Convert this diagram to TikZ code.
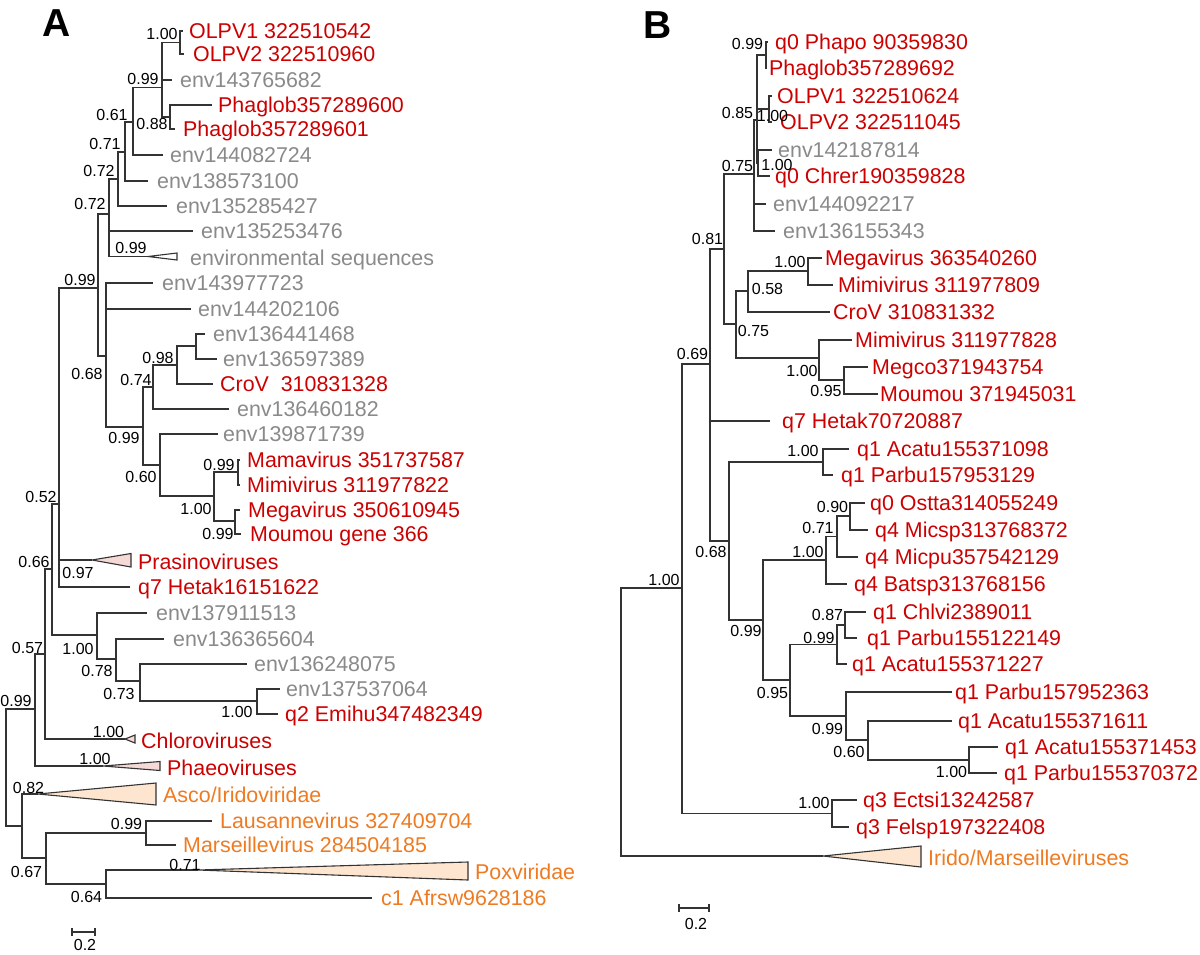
\documentclass[tikz,border=0pt]{standalone}
\usepackage{fontspec}
\setmainfont{Liberation Sans}
\definecolor{vred}{HTML}{CC0000}
\definecolor{vgray}{HTML}{8A8A8A}
\definecolor{vorange}{HTML}{EE7B22}
\definecolor{linec}{HTML}{333333}
\definecolor{pinkfill}{HTML}{F4D9D7}
\definecolor{peachfill}{HTML}{FDE5CF}
\newcommand\leaffont{\fontsize{21.4pt}{24pt}\selectfont}
\newcommand\bsfont{\fontsize{16pt}{18pt}\selectfont}
\newcommand\hdfont{\fontsize{39pt}{40pt}\selectfont\bfseries}
\newcommand\Lf[6]{\coordinate (#1) at (#2,#3); \node[lf,#5] (#1t) at (#4,#3) {#6};}
\tikzset{
  brn/.style={draw=linec, line width=1.2pt},
  tri/.style={draw=linec, line width=1.1pt, line join=miter},
  lf/.style={anchor=west, inner sep=0pt, font=\leaffont, text height=15.3pt, text depth=0pt},
  bs/.style={inner sep=0pt, font=\bsfont, text height=11.5pt, text depth=0pt},
  hd/.style={anchor=north west, inner sep=0pt, font=\hdfont, text height=28pt, text depth=0pt},
}
\begin{document}
\begin{tikzpicture}[x=1pt,y=-1pt]
\useasboundingbox (0,0) rectangle (1200,954);
\fill[white] (0,0) rectangle (1200,954);
\node[hd] (hA) at (42,8) {A};
\node[hd] (hB) at (643,10) {B};
% ================= TREE A =================
\coordinate (aO) at (180,42.5);
\coordinate (a88) at (170,117);
\coordinate (a99a) at (162,87.5);
\coordinate (a61) at (133,122);
\coordinate (a71) at (125,152);
\coordinate (a72u) at (118,179);
\coordinate (a72l) at (109,214);
\coordinate (a99b) at (98,288);
\coordinate (a68) at (106,356);
\coordinate (a99c) at (143,427);
\coordinate (a74) at (153,387);
\coordinate (a98) at (177,365);
\coordinate (aU) at (196,346);
\coordinate (a60) at (160,465);
\coordinate (a100m) at (214,496);
\coordinate (a99mm) at (238,472);
\coordinate (a99mg) at (235,521);
\coordinate (a52) at (59,504);
\coordinate (a66) at (52,569);
\coordinate (a100e) at (97,635);
\coordinate (a78) at (116,659);
\coordinate (a73) at (140,681);
\coordinate (a100q) at (257,701);
\coordinate (a57) at (45,654);
\coordinate (a99d) at (35,709);
\coordinate (aR) at (6,767);
\coordinate (aX) at (22,826);
\coordinate (a67) at (46,858);
\coordinate (a99lm) at (146,833);
\coordinate (a64) at (106,884);
\coordinate (aEnvT) at (148,256.5);
\coordinate (aPraT) at (92,560);
\coordinate (aChlT) at (125,739);
\coordinate (aPhaT) at (103,766);
\coordinate (aAscT) at (38,794);
\coordinate (aPoxT) at (198,870);
\Lf{lO1}{183}{31}{189}{vred}{OLPV1 322510542}
\Lf{lO2}{184}{54}{193}{vred}{OLPV2 322510960}
\Lf{lE1}{172}{80}{180}{vgray}{env143765682}
\Lf{lP1}{212}{105}{218}{vred}{Phaglob357289600}
\Lf{lP2}{175}{129}{183}{vred}{Phaglob357289601}
\Lf{lE2}{163}{155}{170}{vgray}{env144082724}
\Lf{lE3}{148}{181}{157}{vgray}{env138573100}
\Lf{lE4}{167}{206}{176}{vgray}{env135285427}
\Lf{lE5}{193}{231}{201}{vgray}{env135253476}
\node[lf,vgray] (lEnv) at (190,258) {environmental sequences};
\Lf{lE6}{153}{283}{162}{vgray}{env143977723}
\Lf{lE7}{191}{309}{198}{vgray}{env144202106}
\Lf{lE8}{205}{334}{213}{vgray}{env136441468}
\Lf{lE9}{217}{359}{223}{vgray}{env136597389}
\Lf{lCro}{213}{384}{220}{vred}{CroV\ \ 310831328}
\Lf{lE10}{229}{409}{237}{vgray}{env136460182}
\Lf{lE11}{218}{434}{223}{vgray}{env139871739}
\Lf{lMa}{240}{460}{247}{vred}{Mamavirus 351737587}
\Lf{lMi}{240}{485}{247}{vred}{Mimivirus 311977822}
\Lf{lMe}{240}{510}{248}{vred}{Megavirus 350610945}
\Lf{lMo}{241}{534}{250}{vred}{Moumou gene 366}
\node[lf,vred] (lPra) at (138,562) {Prasinoviruses};
\Lf{lQ7}{130}{587}{138}{vred}{q7 Hetak16151622}
\Lf{lE12}{147}{613}{156}{vgray}{env137911513}
\Lf{lE13}{164}{639}{173}{vgray}{env136365604}
\Lf{lE14}{247}{664}{254}{vgray}{env136248075}
\Lf{lE15}{280}{689}{286}{vgray}{env137537064}
\Lf{lQ2}{278}{714}{285}{vred}{q2 Emihu347482349}
\node[lf,vred] (lChl) at (141,741) {Chloroviruses};
\node[lf,vred] (lPha) at (167,768) {Phaeoviruses};
\node[lf,vorange] (lAsc) at (163,795) {Asco/Iridoviridae};
\Lf{lLau}{212}{821}{220}{vorange}{Lausannevirus 327409704}
\Lf{lMar}{176}{845}{183}{vorange}{Marseillevirus 284504185}
\node[lf,vorange] (lPox) at (475,872) {Poxviridae};
\Lf{lC1}{372}{898}{381}{vorange}{c1 Afrsw9628186}
\draw[brn] (aO) |- (lO1) (aO) |- (lO2)
 (a88) |- (lP1) (a88) |- (lP2)
 (a99a) |- (aO) (a99a) |- (lE1) (a99a) |- (a88)
 (a61) |- (a99a) (a61) |- (lE2)
 (a71) |- (a61) (a71) |- (lE3)
 (a72u) |- (a71) (a72u) |- (lE4)
 (a72l) |- (a72u) (a72l) |- (lE5) (a72l) |- (aEnvT)
 (a99b) |- (a72l) (a99b) |- (a68)
 (a68) |- (lE6) (a68) |- (lE7) (a68) |- (a99c)
 (a99c) |- (a74) (a99c) |- (a60)
 (a74) |- (a98) (a74) |- (lE10)
 (a98) |- (aU) (a98) |- (lCro)
 (aU) |- (lE8) (aU) |- (lE9)
 (a60) |- (lE11) (a60) |- (a100m)
 (a100m) |- (a99mm) (a100m) |- (a99mg)
 (a99mm) |- (lMa) (a99mm) |- (lMi)
 (a99mg) |- (lMe) (a99mg) |- (lMo)
 (a52) |- (a99b) (a52) |- (aPraT) (a52) |- (lQ7)
 (a66) |- (a52) (a66) |- (a100e)
 (a100e) |- (lE12) (a100e) |- (a78)
 (a78) |- (lE13) (a78) |- (a73)
 (a73) |- (lE14) (a73) |- (a100q)
 (a100q) |- (lE15) (a100q) |- (lQ2)
 (a57) |- (a66) (a57) |- (aChlT)
 (a99d) |- (a57) (a99d) |- (aPhaT)
 (aR) |- (a99d) (aR) |- (aX)
 (aX) |- (aAscT) (aX) |- (a67)
 (a67) |- (a99lm) (a67) |- (a64)
 (a99lm) |- (lLau) (a99lm) |- (lMar)
 (a64) |- (aPoxT) (a64) |- (lC1);
\draw[tri,fill=white] (aEnvT) -- (177,253) -- (177,260) -- cycle;
\draw[tri,fill=pinkfill] (aPraT) -- (131,553.5) -- (131,567) -- cycle;
\draw[tri,fill=pinkfill] (aChlT) -- (135,735) -- (135,743) -- cycle;
\draw[tri,fill=pinkfill] (aPhaT) -- (160,761.5) -- (160,770.5) -- cycle;
\draw[tri,fill=peachfill] (aAscT) -- (156,783) -- (156,805) -- cycle;
\draw[tri,fill=peachfill] (aPoxT) -- (468,862) -- (468,880) -- cycle;
% bootstrap A
\node[bs] (bA1) at (162,34) {1.00};
\node[bs] (bA2) at (143,79) {0.99};
\node[bs] (bA3) at (152,124) {0.88};
\node[bs] (bA4) at (112,114.5) {0.61};
\node[bs] (bA5) at (105,144) {0.71};
\node[bs] (bA6) at (99,171) {0.72};
\node[bs] (bA7) at (90,204) {0.72};
\node[bs] (bA8) at (131,247.5) {0.99};
\node[bs] (bA9) at (80,280) {0.99};
\node[bs] (bA10) at (87,374) {0.68};
\node[bs] (bA11) at (136,380) {0.74};
\node[bs] (bA12) at (158,358) {0.98};
\node[bs] (bA13) at (124,437.5) {0.99};
\node[bs] (bA14) at (141,477) {0.60};
\node[bs] (bA15) at (196,509) {1.00};
\node[bs] (bA16) at (219,465) {0.99};
\node[bs] (bA17) at (218,534) {0.99};
\node[bs] (bA18) at (41,496.5) {0.52};
\node[bs] (bA19) at (78,573) {0.97};
\node[bs] (bA20) at (34,561.5) {0.66};
\node[bs] (bA21) at (78,649) {1.00};
\node[bs] (bA22) at (97,671) {0.78};
\node[bs] (bA23) at (119,694) {0.73};
\node[bs] (bA24) at (237,712) {1.00};
\node[bs] (bA25) at (27.5,648) {0.57};
\node[bs] (bA26) at (16,700.5) {0.99};
\node[bs] (bA27) at (108.5,732) {1.00};
\node[bs] (bA28) at (95,759) {1.00};
\node[bs] (bA29) at (28.5,788) {0.82};
\node[bs] (bA30) at (126.5,824) {0.99};
\node[bs] (bA31) at (26.5,872) {0.67};
\node[bs] (bA32) at (86.5,897) {0.64};
\node[bs] (bA33) at (185,865) {0.71};
% scale A
\coordinate (sA1) at (72,932);
\coordinate (sA2) at (95,932);
\draw[brn] (sA1) -- (sA2) ([yshift=4pt]sA1) -- ([yshift=-4pt]sA1) ([yshift=4pt]sA2) -- ([yshift=-4pt]sA2);
\node[bs] (sAt) at (85,945) {0.2};
% ================= TREE B =================
\coordinate (b99) at (766,55);
\coordinate (bO) at (769,109);
\coordinate (bEC) at (758,163);
\coordinate (b85) at (757,120);
\coordinate (b75u) at (754,174);
\coordinate (b81) at (724,249);
\coordinate (b75l) at (736,324);
\coordinate (b58) at (748,291);
\coordinate (b100mm) at (808,271);
\coordinate (b100mc) at (819,358);
\coordinate (b95m) at (844,380);
\coordinate (b69) at (710,364);
\coordinate (b68) at (729,541);
\coordinate (b100ap) at (823,462);
\coordinate (b99b) at (763,620);
\coordinate (b100q4) at (826,560);
\coordinate (b71) at (837,536.5);
\coordinate (b90) at (850,516);
\coordinate (b95) at (790,680);
\coordinate (b99c) at (837,644.5);
\coordinate (b87) at (845,625);
\coordinate (b99d) at (846,716);
\coordinate (b60) at (868,740);
\coordinate (b100z) at (969,760);
\coordinate (b100r) at (682,588);
\coordinate (b100q3) at (832,813.5);
\coordinate (bR) at (621,722);
\coordinate (bIrT) at (823,856);
\Lf{mPh}{768}{42}{775}{vred}{q0 Phapo 90359830}
\Lf{mPg}{767}{68}{769}{vred}{Phaglob357289692}
\Lf{mO1}{772}{96}{777}{vred}{OLPV1 322510624}
\Lf{mO2}{772}{122}{780}{vred}{OLPV2 322511045}
\Lf{mE1}{772}{150}{778}{vgray}{env142187814}
\Lf{mCh}{770}{176}{775}{vred}{q0 Chrer190359828}
\Lf{mE2}{766}{204}{773}{vgray}{env144092217}
\Lf{mE3}{775}{231}{783}{vgray}{env136155343}
\Lf{mMe}{822}{258}{825}{vred}{Megavirus 363540260}
\Lf{mMi}{833}{285}{838}{vred}{Mimivirus 311977809}
\Lf{mCr}{830}{312}{833}{vred}{CroV 310831332}
\Lf{mMi2}{852}{340}{855}{vred}{Mimivirus 311977828}
\Lf{mMg}{868}{367}{872}{vred}{Megco371943754}
\Lf{mMo}{878}{394}{880}{vred}{Moumou 371945031}
\Lf{mQ7}{770}{421}{782}{vred}{q7 Hetak70720887}
\Lf{mA1}{849}{449}{857}{vred}{q1 Acatu155371098}
\Lf{mP1}{833}{475}{841}{vred}{q1 Parbu157953129}
\Lf{mOs}{865}{503}{870}{vred}{q0 Ostta314055249}
\Lf{mMs}{868}{530}{875}{vred}{q4 Micsp313768372}
\Lf{mMp}{858}{557}{865}{vred}{q4 Micpu357542129}
\Lf{mBa}{847}{584}{854}{vred}{q4 Batsp313768156}
\Lf{mCv}{866}{612}{873}{vred}{q1 Chlvi2389011}
\Lf{mP2}{857}{638}{867}{vred}{q1 Parbu155122149}
\Lf{mA2}{847}{664}{852}{vred}{q1 Acatu155371227}
\Lf{mP3}{952}{692}{955}{vred}{q1 Parbu157952363}
\Lf{mA3}{952}{721}{958}{vred}{q1 Acatu155371611}
\Lf{mA4}{998}{747}{1005}{vred}{q1 Acatu155371453}
\Lf{mP4}{997}{773}{1004}{vred}{q1 Parbu155370372}
\Lf{mEc}{857}{800}{863}{vred}{q3 Ectsi13242587}
\Lf{mFe}{849}{827}{856}{vred}{q3 Felsp197322408}
\node[lf,vorange] (mIr) at (928,858) {Irido/Marseilleviruses};
\draw[brn] (b99) |- (mPh) (b99) |- (mPg)
 (bO) |- (mO1) (bO) |- (mO2)
 (bEC) |- (mE1) (bEC) |- (mCh)
 (b85) |- (b99) (b85) |- (bO) (b85) |- (bEC)
 (b75u) |- (b85) (b75u) |- (mE2) (b75u) |- (mE3)
 (b81) |- (b75u) (b81) |- (b75l)
 (b75l) |- (b58) (b75l) |- (b100mc)
 (b58) |- (b100mm) (b58) |- (mCr)
 (b100mm) |- (mMe) (b100mm) |- (mMi)
 (b100mc) |- (mMi2) (b100mc) |- (b95m)
 (b95m) |- (mMg) (b95m) |- (mMo)
 (b69) |- (b81) (b69) |- (mQ7) (b69) |- (b68)
 (b68) |- (b100ap) (b68) |- (b99b)
 (b100ap) |- (mA1) (b100ap) |- (mP1)
 (b99b) |- (b100q4) (b99b) |- (b95)
 (b100q4) |- (b71) (b100q4) |- (mBa)
 (b71) |- (b90) (b71) |- (mMp)
 (b90) |- (mOs) (b90) |- (mMs)
 (b95) |- (b99c) (b95) |- (b99d)
 (b99c) |- (b87) (b99c) |- (mA2)
 (b87) |- (mCv) (b87) |- (mP2)
 (b99d) |- (mP3) (b99d) |- (b60)
 (b60) |- (mA3) (b60) |- (b100z)
 (b100z) |- (mA4) (b100z) |- (mP4)
 (b100r) |- (b69) (b100r) |- (b100q3)
 (b100q3) |- (mEc) (b100q3) |- (mFe)
 (bR) |- (b100r) (bR) |- (bIrT);
\draw[tri,fill=peachfill] (bIrT) -- (921,846) -- (921,867) -- cycle;
% bootstrap B
\node[bs] (bB1) at (747.5,44) {0.99};
\node[bs] (bB2) at (737.5,112.5) {0.85};
\node[bs] (bB3) at (772.5,116) {1.00};
\node[bs] (bB4) at (777,165) {1.00};
\node[bs] (bB5) at (737.5,166) {0.75};
\node[bs] (bB6) at (707.5,239) {0.81};
\node[bs] (bB7) at (790,262) {1.00};
\node[bs] (bB8) at (767.5,289) {0.58};
\node[bs] (bB9) at (753.5,331) {0.75};
\node[bs] (bB10) at (802,371) {1.00};
\node[bs] (bB11) at (826,391) {0.95};
\node[bs] (bB12) at (692.5,354) {0.69};
\node[bs] (bB13) at (803,451) {1.00};
\node[bs] (bB14) at (711,552) {0.68};
\node[bs] (bB15) at (832.5,507) {0.90};
\node[bs] (bB16) at (818,528) {0.71};
\node[bs] (bB17) at (808,552) {1.00};
\node[bs] (bB18) at (746,631) {0.99};
\node[bs] (bB19) at (827.5,615) {0.87};
\node[bs] (bB20) at (819,638) {0.99};
\node[bs] (bB21) at (772.5,693) {0.95};
\node[bs] (bB22) at (827.5,729) {0.99};
\node[bs] (bB23) at (849,752) {0.60};
\node[bs] (bB24) at (951.5,772) {1.00};
\node[bs] (bB25) at (814,803) {1.00};
\node[bs] (bB26) at (664,580) {1.00};
% scale B
\coordinate (sB1) at (679,908);
\coordinate (sB2) at (709,908);
\draw[brn] (sB1) -- (sB2) ([yshift=4pt]sB1) -- ([yshift=-4pt]sB1) ([yshift=4pt]sB2) -- ([yshift=-4pt]sB2);
\node[bs] (sBt) at (696,924) {0.2};
\end{tikzpicture}
\end{document}
